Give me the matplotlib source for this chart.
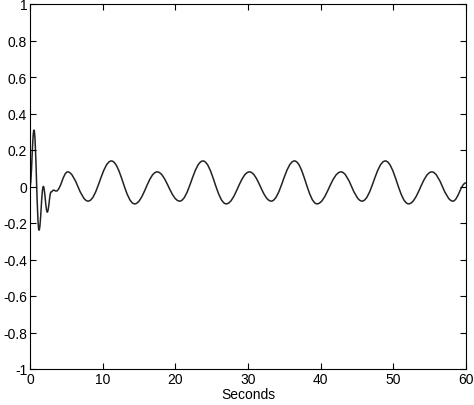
import matplotlib
matplotlib.use('Agg')
import matplotlib.pyplot as plt
from matplotlib.path import Path
from matplotlib.patches import PathPatch

plt.rcParams['font.family'] = ['Liberation Sans', 'DejaVu Sans']

# extrema of the response (seconds, value)
t_knots = [0, 0.55, 1.24, 1.83, 2.38, 2.9, 3.25, 3.6, 5.18, 8.0, 11.2, 14.4, 17.5, 20.6,
           23.8, 27.0, 30.2, 33.2, 36.4, 39.5, 42.8, 45.7, 48.9, 52.1, 55.3, 58.2, 60.0]
y_knots = [0.0, 0.31, -0.24, 0.0, -0.14, -0.03, -0.02, -0.025, 0.08, -0.08, 0.14, -0.095, 0.08, -0.08,
           0.14, -0.095, 0.08, -0.08, 0.14, -0.095, 0.08, -0.08, 0.14, -0.095, 0.08, -0.08, 0.02]
y_ticks = [-1, -0.8, -0.6, -0.4, -0.2, 0, 0.2, 0.4, 0.6, 0.8, 1]
y_labels = ['-1', '-0.8', '-0.6', '-0.4', '-0.2', '0', '0.2', '0.4', '0.6', '0.8', '1']

fig = plt.figure(figsize=(4.74, 4.06), dpi=100)
ax = fig.add_axes([30/474, 36/406, 436/474, 365/406])

# smooth curve: cubic bezier between extrema with flat tangents
verts = [(t_knots[0], y_knots[0])]
codes = [Path.MOVETO]
for i in range(1, len(t_knots)):
    t0, t1 = t_knots[i-1], t_knots[i]
    y0, y1 = y_knots[i-1], y_knots[i]
    d = (t1 - t0) / 2.6
    verts += [(t0 + d, y0), (t1 - d, y1), (t1, y1)]
    codes += [Path.CURVE4] * 3
ax.add_patch(PathPatch(Path(verts, codes), fill=False, color='#222222', lw=1.1))

ax.set_xlim(0, 60)
ax.set_ylim(-1, 1)
ax.set_xticks(range(0, 61, 10))
ax.set_yticks(y_ticks)
ax.set_yticklabels(y_labels)
ax.tick_params(direction='in', top=True, right=True, labelsize=10, length=4, pad=2)
ax.set_xlabel('Seconds', fontsize=10, labelpad=1)
plt.savefig('out.png')
